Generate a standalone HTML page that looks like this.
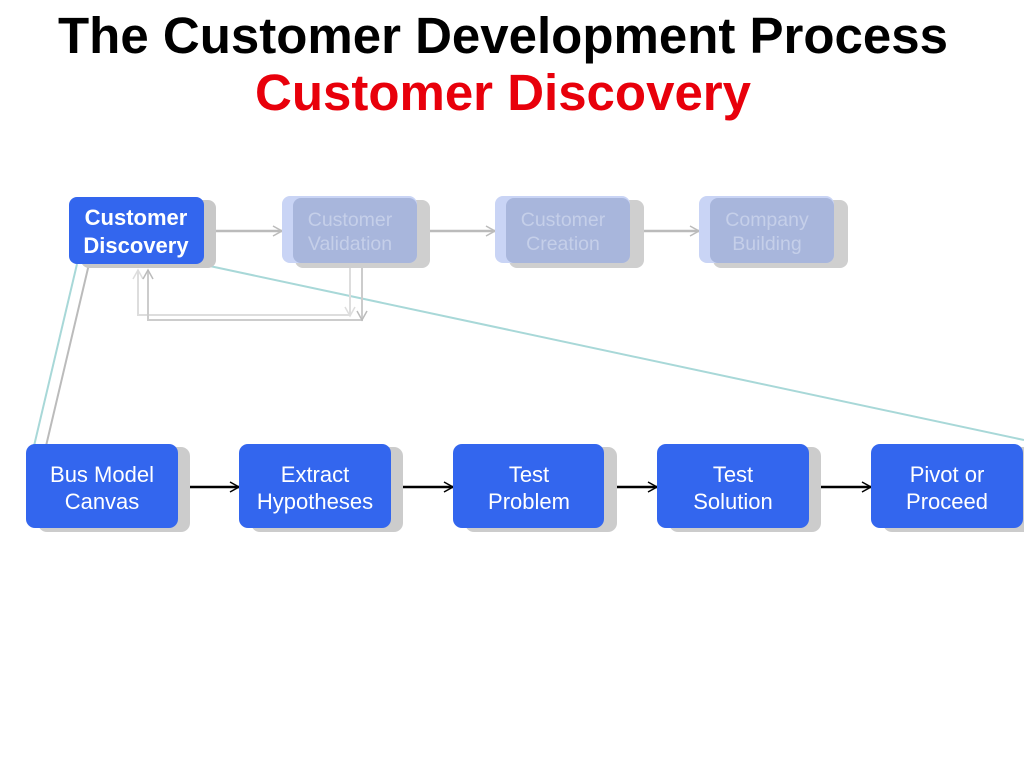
<!DOCTYPE html>
<html><head><style>
body{margin:0;width:1024px;height:768px;background:#fff;overflow:hidden}
svg{display:block}
text{font-family:"Liberation Sans",sans-serif}
</style></head><body>
<svg width="1024" height="768" viewBox="0 0 1024 768">
<defs>
<marker id="ah" markerWidth="12" markerHeight="12" refX="10" refY="6" orient="auto" markerUnits="userSpaceOnUse"><path d="M1,1 L10,6 L1,11" fill="none" stroke="#000" stroke-width="1.5"/></marker>
<marker id="ag" markerWidth="12" markerHeight="12" refX="10" refY="6" orient="auto" markerUnits="userSpaceOnUse"><path d="M1,1 L10,6 L1,11" fill="none" stroke="#bbb" stroke-width="1.5"/></marker>
<marker id="al" markerWidth="12" markerHeight="12" refX="10" refY="6" orient="auto" markerUnits="userSpaceOnUse"><path d="M1,1 L10,6 L1,11" fill="none" stroke="#ddd" stroke-width="1.5"/></marker>
</defs>
<text x="503" y="53" font-size="51" font-weight="bold" text-anchor="middle" fill="#000">The Customer Development Process</text>
<text x="503" y="110" font-size="51" font-weight="bold" text-anchor="middle" fill="#e8000b">Customer Discovery</text>

<line x1="77" y1="264" x2="34" y2="446" stroke="#a8d8d8" stroke-width="2"/>
<line x1="89" y1="264" x2="46" y2="446" stroke="#bbb" stroke-width="2"/>
<line x1="205" y1="265" x2="1024" y2="440" stroke="#a8d8d8" stroke-width="2"/>

<line x1="216" y1="231" x2="282" y2="231" stroke="#bbb" stroke-width="2.5" marker-end="url(#ag)"/>
<line x1="430" y1="231" x2="495" y2="231" stroke="#bbb" stroke-width="2.5" marker-end="url(#ag)"/>
<line x1="644" y1="231" x2="699" y2="231" stroke="#bbb" stroke-width="2.5" marker-end="url(#ag)"/>
<polyline points="350,268 350,315 138,315 138,270" fill="none" stroke="#ddd" stroke-width="2" marker-end="url(#al)"/>
<polyline points="362,268 362,320 148,320 148,270" fill="none" stroke="#ccc" stroke-width="2" marker-end="url(#ag)"/>
<line x1="350" y1="300" x2="350" y2="316" stroke="#ddd" stroke-width="2" marker-end="url(#al)"/>
<line x1="362" y1="300" x2="362" y2="320" stroke="#ccc" stroke-width="2" marker-end="url(#ag)"/>

<rect x="81" y="200" width="135" height="68" rx="8" fill="#c8c8c8"/>
<rect x="69" y="197" width="135" height="67" rx="8" fill="#3366ee"/>
<text x="136" y="225" font-size="22" font-weight="bold" fill="#fff" text-anchor="middle">Customer</text>
<text x="136" y="253" font-size="22" font-weight="bold" fill="#fff" text-anchor="middle">Discovery</text>

<rect x="295" y="200" width="135" height="68" rx="8" fill="#cfcfcf"/>
<rect x="282" y="196" width="135" height="67" rx="8" fill="#c9d4f5"/>
<rect x="293" y="198" width="124" height="65" rx="8" fill="#a8b6dc"/>
<text x="350" y="226" font-size="19.5" fill="#c5cfe9" text-anchor="middle">Customer</text>
<text x="350" y="250" font-size="19.5" fill="#c5cfe9" text-anchor="middle">Validation</text>

<rect x="509" y="200" width="135" height="68" rx="8" fill="#cfcfcf"/>
<rect x="495" y="196" width="135" height="67" rx="8" fill="#c9d4f5"/>
<rect x="506" y="198" width="124" height="65" rx="8" fill="#a8b6dc"/>
<text x="563" y="226" font-size="19.5" fill="#c5cfe9" text-anchor="middle">Customer</text>
<text x="563" y="250" font-size="19.5" fill="#c5cfe9" text-anchor="middle">Creation</text>

<rect x="713" y="200" width="135" height="68" rx="8" fill="#cfcfcf"/>
<rect x="699" y="196" width="135" height="67" rx="8" fill="#c9d4f5"/>
<rect x="710" y="198" width="124" height="65" rx="8" fill="#a8b6dc"/>
<text x="767" y="226" font-size="19.5" fill="#c5cfe9" text-anchor="middle">Company</text>
<text x="767" y="250" font-size="19.5" fill="#c5cfe9" text-anchor="middle">Building</text>

<line x1="178" y1="487" x2="239" y2="487" stroke="#000" stroke-width="2.5" marker-end="url(#ah)"/>
<line x1="391" y1="487" x2="453" y2="487" stroke="#000" stroke-width="2.5" marker-end="url(#ah)"/>
<line x1="604" y1="487" x2="657" y2="487" stroke="#000" stroke-width="2.5" marker-end="url(#ah)"/>
<line x1="809" y1="487" x2="871" y2="487" stroke="#000" stroke-width="2.5" marker-end="url(#ah)"/>

<rect x="38" y="447" width="152" height="85" rx="9" fill="#cccccc"/>
<rect x="26" y="444" width="152" height="84" rx="9" fill="#3366ee"/>
<text x="102" y="482" font-size="22" fill="#fff" text-anchor="middle">Bus Model</text>
<text x="102" y="509" font-size="22" fill="#fff" text-anchor="middle">Canvas</text>

<rect x="251" y="447" width="152" height="85" rx="9" fill="#cccccc"/>
<rect x="239" y="444" width="152" height="84" rx="9" fill="#3366ee"/>
<text x="315" y="482" font-size="22" fill="#fff" text-anchor="middle">Extract</text>
<text x="315" y="509" font-size="22" fill="#fff" text-anchor="middle">Hypotheses</text>

<rect x="465" y="447" width="152" height="85" rx="9" fill="#cccccc"/>
<rect x="453" y="444" width="151" height="84" rx="9" fill="#3366ee"/>
<text x="529" y="482" font-size="22" fill="#fff" text-anchor="middle">Test</text>
<text x="529" y="509" font-size="22" fill="#fff" text-anchor="middle">Problem</text>

<rect x="669" y="447" width="152" height="85" rx="9" fill="#cccccc"/>
<rect x="657" y="444" width="152" height="84" rx="9" fill="#3366ee"/>
<text x="733" y="482" font-size="22" fill="#fff" text-anchor="middle">Test</text>
<text x="733" y="509" font-size="22" fill="#fff" text-anchor="middle">Solution</text>

<rect x="883" y="447" width="152" height="85" rx="9" fill="#cccccc"/>
<rect x="871" y="444" width="152" height="84" rx="9" fill="#3366ee"/>
<text x="947" y="482" font-size="22" fill="#fff" text-anchor="middle">Pivot or</text>
<text x="947" y="509" font-size="22" fill="#fff" text-anchor="middle">Proceed</text>
</svg>
</body></html>
